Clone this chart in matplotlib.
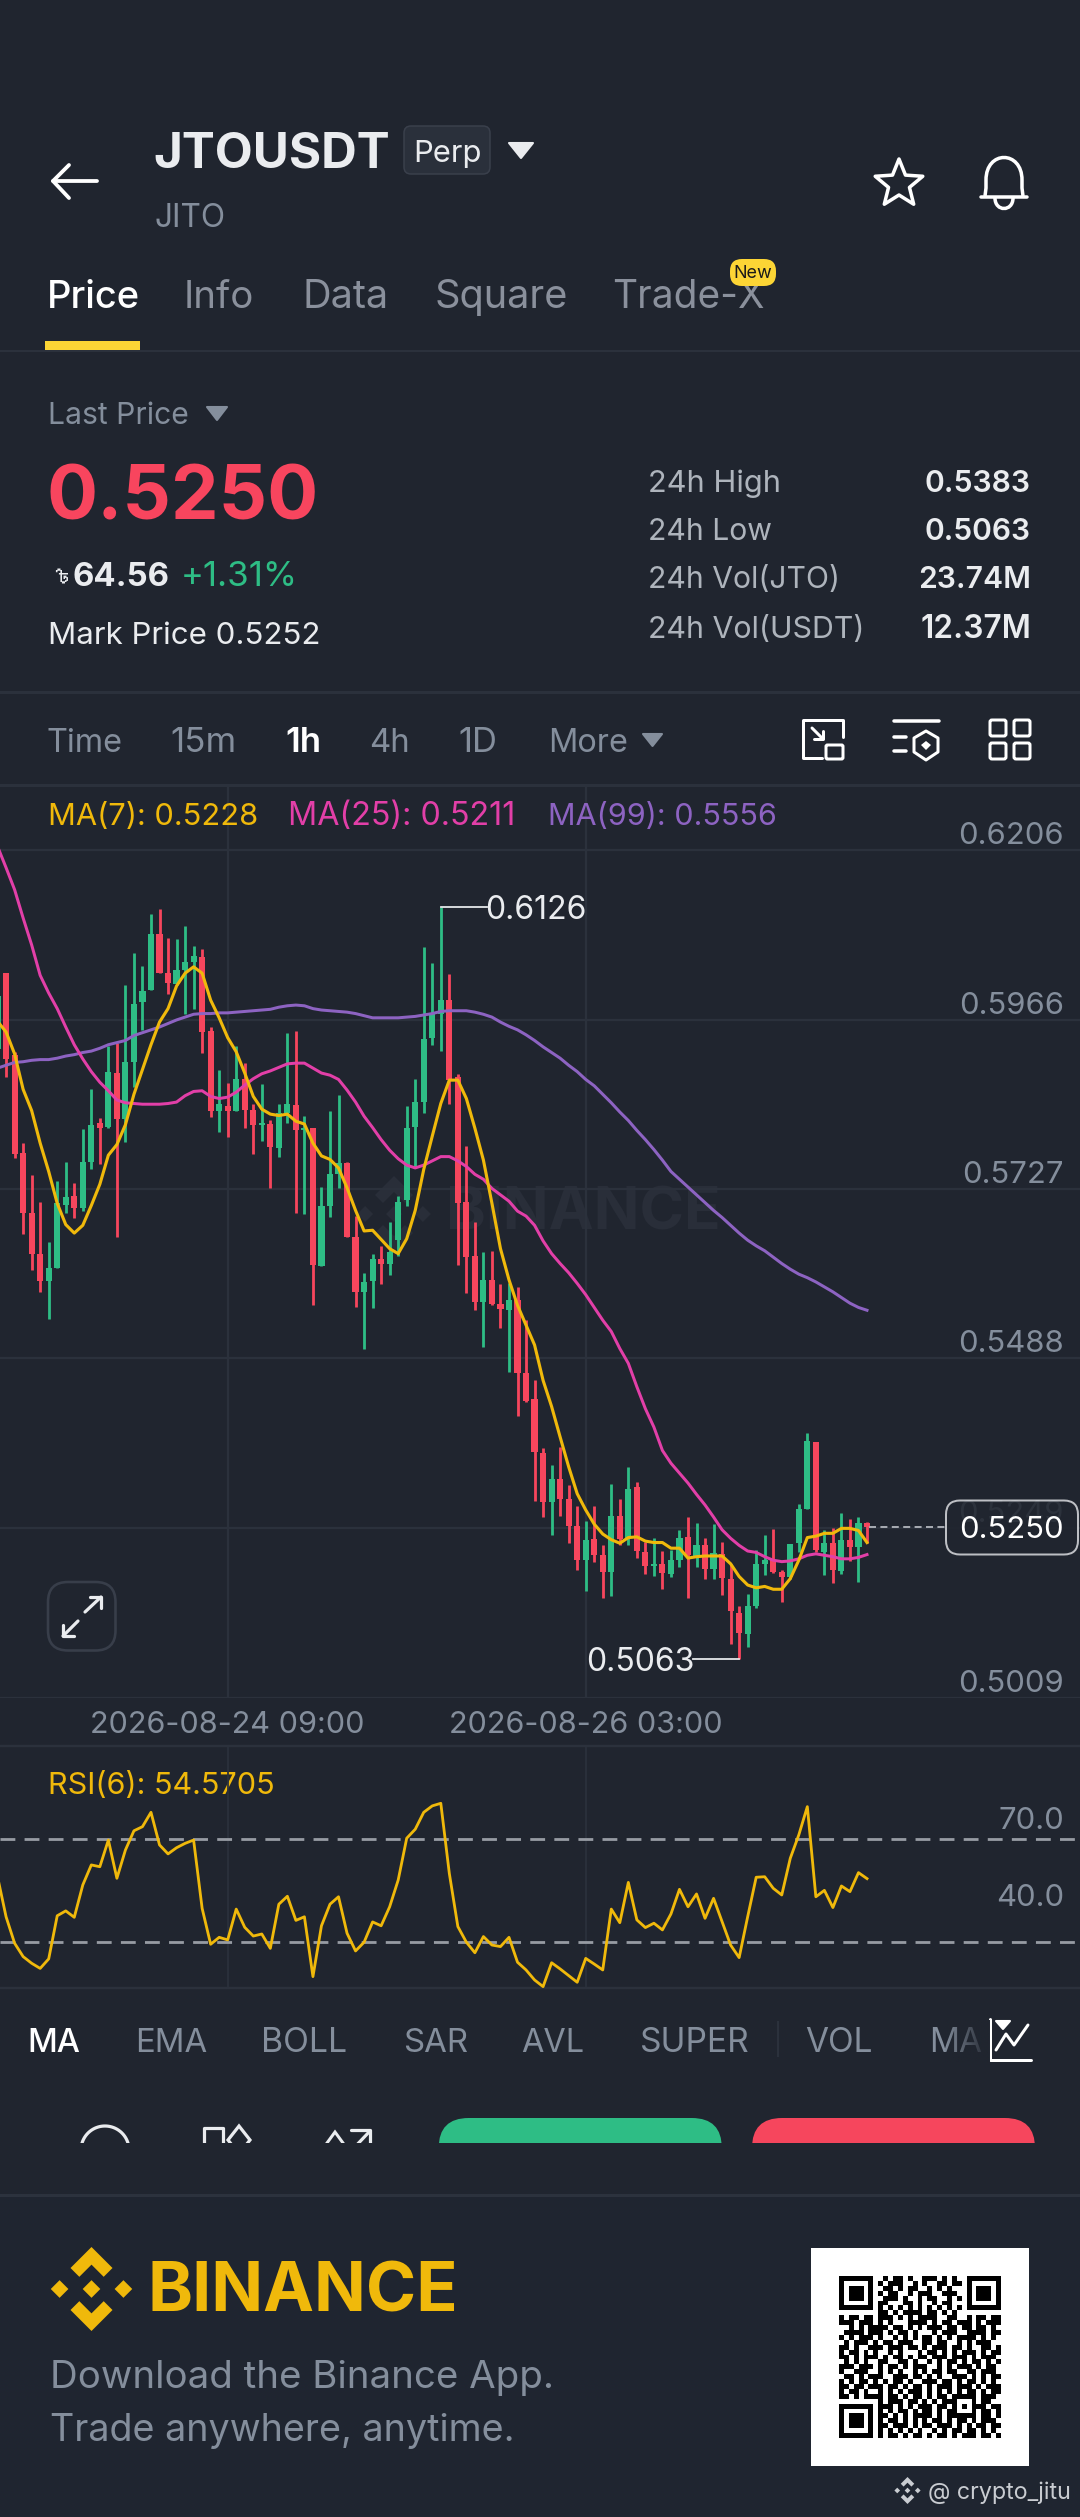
import numpy as np
import matplotlib
matplotlib.use("Agg")
import matplotlib.pyplot as plt
from matplotlib import font_manager as fm
from matplotlib.patches import FancyBboxPatch, Polygon, PathPatch, Rectangle
from matplotlib.path import Path

# ---------- data ----------
hours = list(range(-27, 76))   # hours relative to 2026-08-24 09:00
high = [.6032,.6033,.5921,.5792,.5747,.5709,.5652,.5739,.5765,.5736,
        .5812,.5869,.5827,.5929,.5934,.6016,.6061,.6042,.6115,.6122,
        .6082,.6080,.6098,.6070,.6066,.5956,.5896,.5877,.5929,.5905,
        .5847,.5876,.5824,.5847,.5947,.5950,.5830,.5814,.5730,.5838,
        .5860,.5765,.5689,.5608,.5635,.5647,.5680,.5718,.5845,.5882,
        .6069,.6047,.6126,.6031,.5890,.5788,.5680,.5638,.5639,.5593,
        .5595,.5589,.5542,.5457,.5361,.5337,.5363,.5309,.5279,.5259,
        .5279,.5224,.5311,.5289,.5335,.5313,.5229,.5235,.5216,.5217,
        .5246,.5264,.5256,.5234,.5254,.5229,.5198,.5139,.5156,.5217,
        .5238,.5247,.5189,.5226,.5283,.5383,.5370,.5246,.5249,.5269,
        .5261,.5264,.5257]
low = [.5921,.5886,.5771,.5664,.5613,.5582,.5544,.5616,.5694,.5686,
       .5696,.5756,.5763,.5814,.5660,.5793,.5871,.5952,.6008,.6033,
       .6003,.6016,.5974,.5981,.5919,.5829,.5808,.5801,.5837,.5814,
       .5777,.5795,.5728,.5772,.5821,.5693,.5692,.5563,.5619,.5688,
       .5728,.5660,.5560,.5501,.5559,.5593,.5606,.5632,.5703,.5759,
       .5834,.5931,.5922,.5848,.5620,.5581,.5556,.5504,.5564,.5531,
       .5469,.5406,.5426,.5286,.5264,.5239,.5265,.5227,.5189,.5159,
       .5200,.5150,.5152,.5224,.5225,.5206,.5183,.5181,.5163,.5180,
       .5193,.5150,.5193,.5177,.5176,.5154,.5084,.5063,.5080,.5135,
       .5182,.5185,.5144,.5177,.5214,.5275,.5214,.5182,.5171,.5184,
       .5202,.5172,.5227]
open_ = [.5925,.6033,.5917,.5778,.5693,.5635,.5597,.5616,.5705,.5717,
         .5701,.5765,.5820,.5815,.5891,.5826,.5906,.5992,.6008,.6088,
         .6033,.6017,.6036,.6048,.6055,.5950,.5837,.5845,.5837,.5883,
         .5839,.5817,.5819,.5785,.5835,.5846,.5810,.5814,.5619,.5703,
         .5749,.5764,.5659,.5582,.5598,.5629,.5622,.5655,.5712,.5815,
         .5850,.5940,.5974,.5994,.5885,.5709,.5632,.5568,.5599,.5565,
         .5556,.5570,.5468,.5430,.5355,.5285,.5318,.5289,.5252,.5203,
         .5233,.5210,.5187,.5265,.5235,.5306,.5214,.5195,.5198,.5183,
         .5204,.5236,.5206,.5225,.5191,.5212,.5176,.5129,.5099,.5138,
         .5198,.5204,.5187,.5180,.5227,.5276,.5370,.5215,.5228,.5188,
         .5231,.5222,.5256]
close = [.6000,.5911,.5777,.5694,.5635,.5598,.5616,.5707,.5716,.5701,
         .5766,.5818,.5814,.5892,.5826,.5906,.5989,.6007,.6087,.6033,
         .6018,.6036,.6048,.6056,.5949,.5837,.5847,.5837,.5882,.5839,
         .5817,.5821,.5786,.5834,.5848,.5810,.5814,.5620,.5703,.5749,
         .5764,.5660,.5582,.5596,.5629,.5622,.5638,.5709,.5814,.5850,
         .5939,.5974,.5994,.5881,.5708,.5631,.5568,.5599,.5565,.5558,
         .5570,.5468,.5428,.5356,.5285,.5318,.5289,.5252,.5204,.5232,
         .5211,.5187,.5265,.5233,.5304,.5216,.5195,.5198,.5185,.5203,
         .5235,.5211,.5225,.5191,.5213,.5178,.5131,.5100,.5138,.5198,
         .5203,.5186,.5179,.5226,.5276,.5371,.5217,.5228,.5189,.5231,
         .5222,.5256,.5250]
ma7 = [.5964,.5949,.5918,.5868,.5838,.5792,.5752,.5707,.5677,.5665,
       .5676,.5704,.5734,.5775,.5790,.5818,.5861,.5896,.5931,.5963,
       .5982,.6014,.6032,.6041,.6032,.5994,.5969,.5941,.5921,.5891,
       .5858,.5840,.5833,.5831,.5833,.5823,.5819,.5792,.5774,.5769,
       .5757,.5729,.5697,.5668,.5669,.5656,.5643,.5636,.5657,.5697,
       .5755,.5802,.5848,.5881,.5881,
       .5855,.5813,.5768,.5707,.5643,.5599,.5563,.5535,.5507,.5457,.5420,.5377,
       .5335,.5297,.5274,.5254,.5240,.5232,.5227,.5235,.5236,
       .5230,.5228,.5228,.5220,.5220,.5206,.5208,.5209,.5209,.5209,.5198,.5180,
       .5168,.5164,.5166,.5162,.5162,.5177,.5203,.5235,.5237,.5241,.5241,.5248,
       .5248,.5245,.5228]
ma25 = [.6211,.6181,.6150,.6110,.6072,.6029,.6004,.5982,.5956,.5931,
        .5911,.5893,.5878,.5866,.5853,.5849,.5848,.5847,.5847,.5847,
        .5848,.5850,.5859,.5865,.5866,.5858,.5855,.5857,.5864,.5874,
        .5883,.5890,.5894,.5899,.5904,.5905,.5905,.5898,.5891,.5888,
        .5882,.5867,.5850,.5830,.5814,.5797,.5782,.5770,.5761,.5757,
        .5761,.5767,.5773,.5773,.5767,
        .5759,.5748,.5741,.5728,.5719,.5710,.5696,.5689,.5676,.5654,.5636,.5622,
        .5609,.5594,.5578,.5560,.5542,.5526,.5502,.5481,.5448,.5417,.5391,.5358,
        .5340,.5326,.5312,.5296,.5281,.5264,.5246,.5234,.5224,.5216,.5214,.5208,
        .5203,.5201,.5202,.5205,.5210,.5212,.5210,.5208,.5205,.5205,.5207,.5211]
ma99 = [.5898,.5902,.5906,.5907,.5909,.5910,.5910,.5912,.5915,.5917,
        .5920,.5922,.5926,.5931,.5934,.5937,.5944,.5948,.5952,.5956,
        .5961,.5966,.5970,.5974,.5975,.5975,.5976,.5976,.5977,.5978,
        .5979,.5980,.5981,.5984,.5986,.5987,.5986,.5982,.5980,.5979,
        .5978,.5977,.5975,.5972,.5969,.5969,.5969,.5969,.5970,.5971,
        .5973,.5975,.5978,.5979,.5979,
        .5979,.5977,.5974,.5970,.5963,.5957,.5952,.5945,.5937,.5928,.5920,.5912,
        .5902,.5893,.5882,.5873,.5861,.5849,.5836,.5824,.5810,.5797,.5783,.5768,
        .5752,.5741,.5730,.5719,.5708,.5697,.5687,.5676,.5665,.5655,.5647,.5640,
        .5631,.5622,.5614,.5607,.5602,.5596,.5589,.5582,.5574,.5566,.5560,.5556]
rsi = [55.3,39.7,29.4,24.2,21.6,19.6,23.3,40.1,42.0,39.5,
       52.1,59.9,59.2,69.6,54.7,65.7,73.2,74.8,80.4,67.7,
       64.2,66.6,68.3,69.6,43.0,29.0,31.7,30.7,42.7,35.6,
       32.2,33.0,27.4,44.6,47.7,38.3,39.7,16.4,36.2,44.6,
       47.5,33.3,26.4,29.8,37.7,36.2,43.6,54.0,70.3,73.8,
       80.4,82.9,83.9,56.6,35.9,29.8,25.7,
       32.0,28.7,28.1,31.7,22.0,19.0,15.1,12.5,21.8,19.4,16.8,14.2,23.5,21.3,19.0,
       42.7,37.4,53.1,38.5,35.5,37.2,34.6,40.8,50.4,43.6,48.6,39.1,46.9,37.8,28.7,
       23.8,39.7,55.1,55.3,50.8,48.2,62.5,71.6,82.6,47.5,50.0,43.3,51.7,49.5,56.9,54.57]
for name, s in [("high",high),("low",low),("open",open_),("close",close),("ma7",ma7),("ma25",ma25),("ma99",ma99),("rsi",rsi)]:
    assert len(s) == len(hours), (name, len(s))

price_ticks = [0.6206, 0.5966, 0.5727, 0.5488, 0.5249, 0.5009]
rsi_ticks = [70.0, 40.0]
rsi_bands = [70, 30]
time_ticks = [0, 42]
time_labels = ["2026-08-24 09:00", "2026-08-26 03:00"]
last_price = 0.5250
peak_price, trough_price = 0.6126, 0.5063
peak_hour, trough_hour = 25, 60

tabs = ["Price", "Info", "Data", "Square", "Trade-X"]
tab_x = [47, 184.6, 303, 435, 613]
tab_w = [93, 70, 86, 133, 152]
intervals = ["Time", "15m", "1h", "4h", "1D", "More"]
interval_x = [46, 170.8, 285.8, 369, 458, 548]
interval_w = [76, 66, 36, 41, 39, 80]
indicators = ["MA", "EMA", "BOLL", "SAR", "AVL", "SUPER", "VOL", "MA"]
indicator_x = [27.5, 135.7, 261.7, 403.6, 522, 640.5, 805.8, 929.8]
indicator_w = [53, 72, 86, 65, 63, 109, 67.5, 53]
stat_names = ["24h High", "24h Low", "24h Vol(JTO)", "24h Vol(USDT)"]
stat_w = [133, 124, 192, 217]
stat_vals = ["0.5383", "0.5063", "23.74M", "12.37M"]
stat_val_w = [106, 106, 113, 111]
stat_y = [491.7, 540, 588, 637.7]

# ---------- style ----------
W, H = 1080, 2517
BG = "#20252f"
BG2 = "#1f2530"
GRID = "#2b313c"
GREY = "#848e9c"
TXT = "#eaecef"
GREEN = "#2EBD85"
RED = "#F6465D"
YEL = "#F0B90B"
PINK = "#E23FA8"
PURP = "#8D63C2"
FONT = ["Inter", "Noto Sans", "DejaVu Sans"]
PX = 0.72

# an installed family that has the taka sign
taka_family = "DejaVu Sans"
for f in fm.fontManager.ttflist:
    try:
        if 0x09F3 in fm.get_font(f.fname).get_charmap():
            taka_family = f.name
            break
    except Exception:
        pass

fig = plt.figure(figsize=(W/100, H/100), dpi=100, facecolor=BG)
plt.rcParams["font.family"] = FONT
rend = fig.canvas.get_renderer()

def overlay(z):
    a = fig.add_axes([0, 0, 1, 1], zorder=z)
    a.set_xlim(0, W); a.set_ylim(H, 0); a.axis("off"); a.patch.set_alpha(0)
    return a
ov = overlay(0)
fg = overlay(5)

def T(x, y, s, px, color, ha="left", w=None, weight="normal", a=None, z=5, fam=None):
    a = a or ov
    t = a.text(x, y, s, fontsize=px*PX, color=color, ha=ha, va="baseline",
               fontweight=weight, family=fam or FONT, zorder=z)
    if w:
        e = t.get_window_extent(rend).width
        t.set_fontsize(t.get_fontsize()*w/e)
    return t

def L(xs, ys, color="#ffffff", px=3, a=None, z=5):
    (a or ov).plot(xs, ys, color=color, lw=px*PX, solid_capstyle="round",
                   solid_joinstyle="round", zorder=z)

def RR(x0, y0, x1, y1, r, fc="none", ec="none", px=0, a=None, z=4, alpha=None):
    (a or ov).add_patch(FancyBboxPatch((x0, y0), x1-x0, y1-y0,
        boxstyle=f"round,pad=0,rounding_size={r}", fc=fc, ec=ec, lw=px*PX, zorder=z, alpha=alpha))

def TRI(x0, x1, y0, y1, color):
    ov.add_patch(Polygon([(x0, y0), (x1, y0), ((x0+x1)/2, y1)], closed=True, fc=color, ec=color,
                         lw=1.5, joinstyle="round", zorder=5))

def logo(cx, cy, s, color, a=None, z=3):
    a = a or ov
    shapes = [
        [(-.5,-.5),(0,-1),(.5,-.5),(.29,-.29),(0,-.58),(-.29,-.29)],
        [(-.5,.5),(0,1),(.5,.5),(.29,.29),(0,.58),(-.29,.29)],
        [(0,-.21),(.21,0),(0,.21),(-.21,0)],
        [(-.76,-.21),(-.55,0),(-.76,.21),(-.97,0)],
        [(.76,-.21),(.97,0),(.76,.21),(.55,0)],
    ]
    for sh in shapes:
        a.add_patch(Polygon([(cx+s*px_, cy+s*py_) for px_, py_ in sh], closed=True, fc=color, ec="none", zorder=z))

# ---------- header ----------
L([53, 97], [181, 181], px=3.8)
L([69, 53, 69], [165, 181, 198], px=3.8)
T(153.5, 167.7, "JTOUSDT", 50, TXT, w=237, weight="bold")
RR(404, 126, 490, 174, 7, fc="#2a303b", ec="#3a404c", px=1.5)
T(413, 161.7, "Perp", 29, TXT, w=68)
TRI(509, 533, 143, 158, "#eaecef")
T(154.5, 226.7, "JITO", 32, GREY, w=71)

ang = np.deg2rad(np.arange(-90, 270, 36))
rad = [25, 11]*5
ov.add_patch(Polygon([(899+r*np.cos(t), 184+r*np.sin(t)) for r, t in zip(rad, ang)], closed=True,
                     fc="none", ec="white", lw=3.5*PX, joinstyle="round", zorder=5))
bell = Path([(985,196),(985,196),(986,188),(986,180),(986,150),(1022,150),(1022,180),(1022,188),(1023,196),(1023,196)],
            [Path.MOVETO,Path.LINETO,Path.LINETO,Path.LINETO,Path.CURVE4,Path.CURVE4,Path.CURVE4,Path.LINETO,Path.LINETO,Path.LINETO])
ov.add_patch(PathPatch(bell, fc="none", ec="white", lw=3.5*PX, zorder=5))
L([981, 1027], [197, 197], px=3.5)
ov.add_patch(PathPatch(Path([(995,198),(995,212),(1013,212),(1013,198)],
    [Path.MOVETO,Path.CURVE4,Path.CURVE4,Path.CURVE4]), fc="none", ec="white", lw=3.5*PX, zorder=5))

for i, (s, x, w) in enumerate(zip(tabs, tab_x, tab_w)):
    T(x-0.5, 308.5, s, 38, "#ffffff" if i == 0 else "#8a909c", w=w, weight="medium" if i == 0 else "normal")
RR(730, 259, 776, 286, 12, fc="#FCD535", z=6)
ov.text(753, 278, "New", fontsize=18*PX, color="#1a1a1a", ha="center", va="baseline", family=FONT, zorder=7)
ov.add_patch(Rectangle((45, 341), 95, 9, fc="#FCD535", ec="none", zorder=5))
ov.add_patch(Rectangle((0, 350), W, 2, fc=GRID, ec="none", zorder=1))

# ---------- price block ----------
T(48.5, 424, "Last Price", 30, GREY, w=141)
TRI(207, 227, 407, 420, GREY)
T(47, 520, "0.5250", 77, "#F8455E", w=272, weight="bold")
T(49, 585.7, "\u09f3", 34, TXT, w=24, weight="bold", fam=[taka_family, "DejaVu Sans"])
T(73, 585.7, "64.56", 33, TXT, w=97, weight="bold")
T(181, 585.7, "+1.31%", 33, GREEN, w=117)
T(48.5, 644, "Mark Price 0.5252", 30, TXT, w=273)
for s, sw, v, vw, y in zip(stat_names, stat_w, stat_vals, stat_val_w, stat_y):
    T(648.5, y, s, 30, "#aeb4bc", w=sw)
    T(1031, y, v, 30, TXT, ha="right", weight="semibold", w=vw)
ov.add_patch(Rectangle((0, 691), W, 3, fc=GRID, ec="none", zorder=1))

for s, x, w in zip(intervals, interval_x, interval_w):
    T(x, 751.7, s, 32, "#ffffff" if s == "1h" else GREY, weight="semibold" if s == "1h" else "normal", w=w)
TRI(643, 662, 734, 746, GREY)
# toolbar icons
L([843, 843, 803, 803, 822], [737, 720, 720, 758, 758], px=3)
RR(826, 745, 843, 759, 1.5, ec="white", px=3, z=5)
L([812, 823], [728, 739], px=3); L([823, 823, 814], [731, 739, 739], px=3)
L([894, 939], [721, 721], px=3.5)
L([894, 906], [737, 737], px=3.5); L([894, 906], [751, 751], px=3.5)
ov.add_patch(Polygon([(926,731),(938,738),(938,752),(926,760),(914,752),(914,738)], closed=True, fc="none", ec="white",
                     lw=3*PX, joinstyle="round", zorder=5))
ov.add_patch(Polygon([(926,741),(931,745),(926,750),(921,745)], closed=True, fc="white", ec="none", zorder=5))
for x0 in (990, 1014):
    for y0 in (720, 743):
        RR(x0, y0, x0+16, y0+16, 2, ec="white", px=3, z=5)
ov.add_patch(Rectangle((0, 783.5), W, 3, fc=GRID, ec="none", zorder=1))

T(48.5, 825, "MA(7): 0.5228", 30, YEL, w=210, a=fg)
T(288, 825, "MA(25): 0.5211", 30, PINK, w=228, a=fg)
T(548, 825, "MA(99): 0.5556", 30, PURP, w=229, a=fg)

# watermark
T(446, 1230, "BINANCE", 54, "#292e39", w=274, weight="bold", z=1)
logo(394, 1214, 38, "#292e39", z=1)

# ---------- main chart ----------
def pos(top, bot):
    return [0, 1-bot/H, 1, (bot-top)/H]
X0, DX = 227.7, 8.524
XLIM = ((0-X0)/DX, (W-X0)/DX)
ax = fig.add_axes(pos(786, 1697.6), zorder=2)
ax.patch.set_alpha(0)
ax.set_xlim(*XLIM)
per_px = (price_ticks[0]-price_ticks[-1])/(1697.6-850)
ax.set_ylim(price_ticks[-1], price_ticks[0]+per_px*64)
for sp in ax.spines.values():
    sp.set_visible(False)
ax.set_yticks(price_ticks)
ax.set_yticklabels([f"{v:.4f}" for v in price_ticks])
ax.yaxis.tick_right()
ax.tick_params(axis="y", length=0, pad=-16*PX, labelsize=31*PX, labelcolor=GREY, zorder=1)
for lb in ax.get_yticklabels():
    lb.set_ha("right"); lb.set_va("bottom")
ax.set_xticks(time_ticks)
ax.set_xticklabels(time_labels)
ax.tick_params(axis="x", length=0, pad=13.5*PX, labelsize=30.6*PX, labelcolor=GREY)
ax.grid(True, color=GRID, lw=2.2*PX, zorder=0)
ax.set_axisbelow(True)

for t, o, h, l, c in zip(hours, open_, high, low, close):
    col = GREEN if c >= o else RED
    ax.vlines(t, l, h, color=col, lw=2.8*PX, zorder=2)
    ax.bar(t, max(abs(c-o), 0.0001), bottom=min(o, c), width=0.72, color=col, zorder=2, lw=0)
ax.plot(hours, ma99, color=PURP, lw=3*PX, zorder=3, solid_joinstyle="round")
ax.plot(hours, ma25, color=PINK, lw=3*PX, zorder=3, solid_joinstyle="round")
ax.plot(hours, ma7, color=YEL, lw=3.1*PX, zorder=3, solid_joinstyle="round")

# callouts
ax.plot([peak_hour, 30.4], [peak_price]*2, color="#e6e8ea", lw=1.8*PX, zorder=4)
ax.annotate(f"{peak_price:.4f}", xy=(30.2, peak_price), xytext=(0, -12*PX), textcoords="offset points",
            ha="left", va="baseline", fontsize=32*PX, color=TXT, zorder=4)
ax.plot([trough_hour, 54.6], [trough_price]*2, color="#e6e8ea", lw=1.8*PX, zorder=4)
ax.annotate(f"{trough_price:.4f}", xy=(54.8, trough_price), xytext=(0, -11.7*PX), textcoords="offset points",
            ha="right", va="baseline", fontsize=32*PX, color=TXT, zorder=4)
ax.plot([75.2, 84.3], [last_price]*2, color="#a5a9b0", lw=2*PX, ls=(0, (3.5, 2.2)), zorder=3)

# last price box
RR(946, 1500.5, 1078, 1554.5, 14, fc=BG, ec="#d4d6da", px=2, a=fg, alpha=0.88)
T(1064, 1538, f"{last_price:.4f}", 31, "#ffffff", ha="right", a=fg, z=6)

# expand button
RR(48, 1582, 115.5, 1650.5, 20, ec="#383e4a", px=2.6, z=3)
L([85, 101], [1612, 1597], color=TXT, px=3.2)
L([90, 101, 101], [1597, 1597, 1608], color=TXT, px=3.2)
L([78, 63], [1621, 1636], color=TXT, px=3.2)
L([63, 63, 74], [1625, 1636, 1636], color=TXT, px=3.2)

# ---------- RSI ----------
rtop, rbot = 1745.7, 1987.7
per = (rsi_bands[0]-rsi_bands[1])/(1941.7-1839)
rx = fig.add_axes(pos(rtop, rbot), zorder=2)
rx.patch.set_alpha(0)
rx.set_xlim(*XLIM)
rx.set_ylim(rsi_bands[1]-(rbot-1941.7)*per, rsi_bands[0]+(1839-rtop)*per)
for k, sp in rx.spines.items():
    sp.set_visible(k in ("top", "bottom"))
    sp.set_color(GRID); sp.set_linewidth(2.4*PX)
rx.set_xticks(time_ticks); rx.set_xticklabels([])
rx.grid(True, axis="x", color=GRID, lw=1.8*PX, zorder=0)
rx.set_axisbelow(True)
rx.set_yticks(rsi_ticks)
rx.set_yticklabels([])
rx.tick_params(axis="both", length=0)
for v in rsi_ticks:
    rx.annotate(f"{v:.1f}", xy=(1, v), xycoords=("axes fraction", "data"), xytext=(-16*PX, 10*PX),
                textcoords="offset points", ha="right", va="baseline", fontsize=31*PX, color=GREY)
for b in rsi_bands:
    rx.axhline(b, color="#979ba3", lw=2.8*PX, ls=(0, (5.3, 3.3)), zorder=1)
rx.plot(hours, rsi, color=YEL, lw=2.8*PX, zorder=3, solid_joinstyle="round", clip_on=True)
T(48.5, 1794, "RSI(6): 54.5705", 30, YEL, w=227)

# ---------- indicator row ----------
for i, (s, x, w) in enumerate(zip(indicators, indicator_x, indicator_w)):
    T(x-0.5, 2051.7, s, 33, "#ffffff" if i == 0 else GREY, weight="medium" if i == 0 else "normal", w=w)
ov.add_patch(Rectangle((777.2, 2021), 1.6, 36, fc=GRID, ec="none", zorder=4))
grad = np.zeros((1, 64, 4))
grad[..., :3] = np.array(matplotlib.colors.to_rgb(BG))
grad[..., 3] = np.linspace(0.05, 1, 64)
ov.imshow(grad, extent=(945, 990, 2062, 2020), aspect="auto", zorder=6, interpolation="bilinear")
L([990, 990, 1031], [2019, 2060, 2060], px=3)
L([996, 1006, 1014, 1028], [2050, 2034, 2045, 2025], px=3)
TRI(996, 1010, 2021, 2029, "#ffffff")

# cut-off bottom bar
for x0, x1, c in [(438.7, 721.8, GREEN), (752, 1035, RED)]:
    RR(x0, 2118, x1, 2200, 30, fc=c, z=3)
t_ = np.linspace(np.pi, 2*np.pi, 40)
L(105+24*np.cos(t_), 2150+24*np.sin(t_), color=TXT, px=3.2, z=3)
L([204, 204, 223, 223], [2150, 2128, 2128, 2150], color=TXT, px=3.2, z=3)
ov.add_patch(Polygon([(239,2126),(250,2140),(239,2154),(228,2140)], closed=True, fc="none", ec=TXT, lw=3.2*PX, zorder=3))
ov.add_patch(Polygon([(335,2132),(343,2143),(335,2154),(327,2143)], closed=True, fc="none", ec=TXT, lw=3*PX, zorder=3))
L([351, 370, 370], [2130, 2130, 2150], color=TXT, px=3.2, z=3)
L([352, 370], [2150, 2131], color=TXT, px=3.2, z=3)
ov.add_patch(Rectangle((0, 2142.7), W, 60, fc=BG, ec="none", zorder=3.5))
ov.add_patch(Rectangle((0, 2193.5), W, 3, fc="#2c323d", ec="none", zorder=4))
ov.add_patch(Rectangle((0, 2196.5), W, H-2196.5, fc=BG2, ec="none", zorder=3.6))

# ---------- footer ----------
logo(91.5, 2289, 42, YEL, z=5)
T(148, 2311, "BINANCE", 62, YEL, w=311, weight="bold")
T(50, 2387.7, "Download the Binance App.", 36, GREY, w=503)
T(50, 2441, "Trade anywhere, anytime.", 36, GREY, w=465)

ov.add_patch(Rectangle((810.6, 2248), 218.4, 218, fc="white", ec="none", zorder=5))
qr_rows = [
"#######..#.##.#..###.#.#..#######",
"#.....#.#.###..#.#..##.##.#.....#",
"#.###.#..##.#.##..#.#.#...#.###.#",
"#.###.#.#.##..#.###..###..#.###.#",
"#.###.#..###.#..#.##..#.#.#.###.#",
"#.....#.##...##.#..#.##...#.....#",
"#######.#.#.#.#.#.#.#.#.#.#######",
"........##.#.####.##.#.#.........",
"#.##.##.###.#.#.####..##..#.##.##",
"###.###.#.#...####.#.##.###.#.###",
"..#.#.####.##.#.#.###.##.##.##.#.",
".####.###.#.##.#...#.###..####.##",
"#.#.###.#..#.#.#.##.#.#.####.#.#.",
".#.###.#.##.###..##.##..#.#.###..",
"##.#..###.###.##.#.###.##.#..##.#",
"#.##.#.#..#.#...#.##.#.#.###.#.##",
"##.#.###.#.##.#.##.###.###.#.###.",
".#.#.#..##..##.#..#.#.##.#.##.#.#",
"###.###.#.##.#.###..#.#.###.#.##.",
"#..###..#.#.#..#.#.##.##..##.###.",
".##.#.###..###.##.#.#..###.#.#.##",
"#.#.##.#.#.##.#..###.##.#.##.#.#.",
"##.##.###.##.#.##.#.###.###.#.###",
"#.##.#..#.#.#.###.#.#.#.#.##.#.##",
"##.#.####.##.#.##.#.##.#####.###.",
"........#.###.##.#.#.###...#.##..",
"#######.###.#.#.###.##.#.#.###.##",
"#.....#.#.#.##.#.##.#.##...#.##.#",
"#.###.#.##.#.#.####.#.######.##.#",
"#.###.#.#.##.#.#.#.##.#.##.#.###.",
"#.###.#.##.###.#.##.###.#.#.##.##",
"#.....#.#.#.#.#.#..#.#.##.##.#.#.",
"#######.#.##.#.##.#.##.#.###.##.#",
]
qr = np.array([[0 if ch == "#" else 1 for ch in r.ljust(33, ".")[:33]] for r in qr_rows])
ov.imshow(qr, extent=(839, 1000.7, 2437.7, 2276), cmap="gray", vmin=0, vmax=1,
          interpolation="nearest", aspect="auto", zorder=6)
ov.set_xlim(0, W); ov.set_ylim(H, 0)

logo(907.5, 2490.5, 13.5, "#c9ccd1", z=5)
T(928, 2499, "@ crypto_jitu", 25, "#c9ccd1", w=143)

fig.savefig("out.png", dpi=100, facecolor=BG)
